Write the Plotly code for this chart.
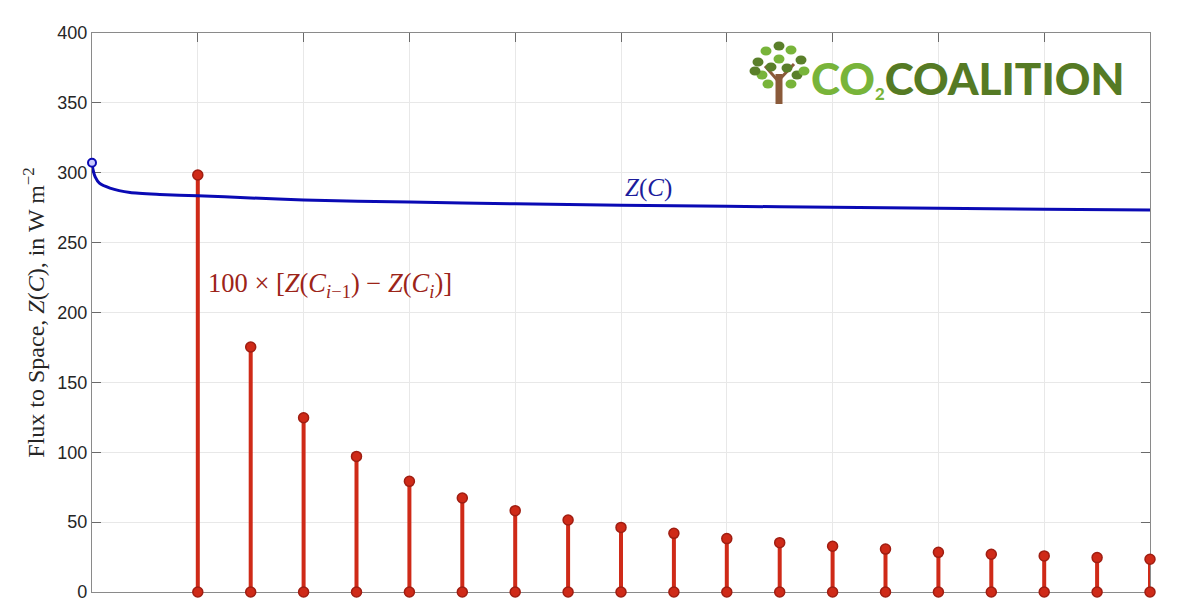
import plotly.graph_objects as go

# ---- data ----
curve_c = [0, 1, 3, 7, 17, 36, 64, 100, 150, 200, 300, 400, 500, 600, 700, 800, 900, 1000]
curve_z = [307.2, 302.0, 297.0, 292.5, 289.0, 285.8, 284.5, 283.5, 282.0, 280.5, 279.0,
           277.8, 276.8, 276.0, 275.3, 274.6, 273.9, 273.3]

stem_c = [100, 150, 200, 250, 300, 350, 400, 450, 500, 550, 600, 650, 700, 750, 800,
          850, 900, 950, 1000]
stem_v = [298.4, 175.3, 124.7, 97.0, 79.2, 67.3, 58.2, 51.5, 46.2, 42.0, 38.2, 35.3,
          32.7, 30.7, 28.4, 27.0, 25.8, 24.6, 23.4]

y_ticks = [0, 50, 100, 150, 200, 250, 300, 350, 400]
x_ticks = [0, 100, 200, 300, 400, 500, 600, 700, 800, 900, 1000]

BLUE = "#0a0ab4"
RED = "#cf2a18"
RED_EDGE = "#a01e12"

fig = go.Figure()

# stems
sx, sy = [], []
for c, v in zip(stem_c, stem_v):
    sx += [c, c, None]
    sy += [0, v, None]
fig.add_trace(go.Scatter(x=sx, y=sy, mode="lines", line=dict(color=RED, width=4),
                         hoverinfo="skip", showlegend=False, cliponaxis=False))
fig.add_trace(go.Scatter(x=stem_c, y=stem_v, mode="markers",
                         marker=dict(size=10, color=RED, line=dict(color=RED_EDGE, width=1.5)),
                         showlegend=False, cliponaxis=False))
fig.add_trace(go.Scatter(x=stem_c, y=[0] * len(stem_c), mode="markers",
                         marker=dict(size=10, color=RED, line=dict(color=RED_EDGE, width=1.5)),
                         showlegend=False, cliponaxis=False))

# Z(C) curve
fig.add_trace(go.Scatter(x=curve_c, y=curve_z, mode="lines",
                         line=dict(color=BLUE, width=3, shape="spline", smoothing=0.6),
                         showlegend=False, cliponaxis=False))
fig.add_trace(go.Scatter(x=[curve_c[0]], y=[curve_z[0]], mode="markers",
                         marker=dict(size=8, color="#c8c8ff", line=dict(color=BLUE, width=2)),
                         showlegend=False, cliponaxis=False))

serif = "Liberation Serif, DejaVu Serif, serif"

fig.update_layout(
    width=1192, height=592,
    margin=dict(l=84, r=50, t=25, b=8, autoexpand=False),
    plot_bgcolor="white", paper_bgcolor="white",
    xaxis=dict(range=[0, 1000], tickvals=x_ticks, showticklabels=False, automargin=False,
               showgrid=True, gridcolor="#e8e8e8", gridwidth=1, zeroline=False,
               showline=True, linecolor="#8a8a8a", linewidth=1.2, mirror="ticks",
               ticks="inside", ticklen=9, tickcolor="#6a6a6a", layer="below traces"),
    yaxis=dict(range=[0, 400], tickvals=y_ticks, showgrid=True, gridcolor="#e8e8e8",
               gridwidth=1, zeroline=False, showline=True, linecolor="#8a8a8a",
               linewidth=1.2, mirror="ticks", ticks="inside", ticklen=9, automargin=False,
               tickcolor="#6a6a6a", layer="below traces", ticklabeloverflow="allow",
               tickfont=dict(family="Liberation Sans, Arial, sans-serif", size=18, color="#262626"),
               title=dict(text="Flux to Space, <i>Z</i>(<i>C</i>), in W m<sup>−2</sup>",
                          font=dict(family=serif, size=24, color="#262626"), standoff=5)),
)

fig.add_annotation(x=526, y=289, xref="x", yref="y", text="<i>Z</i>(<i>C</i>)",
                   showarrow=False, yanchor="middle",
                   font=dict(family=serif, size=25, color="#1c1c9c"))
fig.add_annotation(x=108, y=220, xref="x", yref="y",
                   text="100 × [<i>Z</i>(<i>C</i><sub><i>i</i>−1</sub>) − <i>Z</i>(<i>C</i><sub><i>i</i></sub>)]",
                   showarrow=False, xanchor="left", yanchor="middle",
                   font=dict(family=serif, size=26.5, color="#9c2418"))


# pixel (window) -> paper conversion helpers
def px(xp):
    return (xp - 92) / 1058


def py(yp):
    return 1 - (yp - 33) / (592 - 33)


# logo text
fig.add_annotation(
    x=px(809), y=py(78), xref="paper", yref="paper", showarrow=False,
    xanchor="left", yanchor="middle",
    text=("<span style='color:#78b43a'>CO</span>"
          "<span style='color:#78b43a;font-size:24px'><sub>2</sub></span>"
          "<span style='color:#557a24'>COALITION</span>"),
    font=dict(family="Lato, sans-serif", size=44, weight=900))

# logo tree drawn with shapes
shapes = [
    dict(type="line", xref="paper", yref="paper", x0=px(779), y0=py(104), x1=px(779), y1=py(74),
         line=dict(color="#8a5a3a", width=7)),
    dict(type="line", xref="paper", yref="paper", x0=px(779), y0=py(82), x1=px(765), y1=py(66),
         line=dict(color="#8a5a3a", width=3)),
    dict(type="line", xref="paper", yref="paper", x0=px(779), y0=py(80), x1=px(794), y1=py(64),
         line=dict(color="#8a5a3a", width=3)),
]
leaves = [(758, 62, "#5a7f2a"), (766, 51, "#78b43a"), (779, 46, "#5a7f2a"), (791, 50, "#78b43a"),
          (801, 60, "#5a7f2a"), (762, 75, "#78b43a"), (797, 75, "#5a7f2a"), (779, 59, "#78b43a"),
          (787, 68, "#5a7f2a"), (771, 67, "#5a7f2a"), (804, 71, "#78b43a"), (755, 71, "#5a7f2a"),
          (768, 84, "#78b43a"), (791, 84, "#78b43a")]
for (lx, ly, col) in leaves:
    shapes.append(dict(type="circle", xref="paper", yref="paper",
                       x0=px(lx - 5.5), x1=px(lx + 5.5), y0=py(ly + 4.5), y1=py(ly - 4.5),
                       fillcolor=col, line=dict(width=0)))
fig.update_layout(shapes=shapes)

fig.write_html("out.html")
